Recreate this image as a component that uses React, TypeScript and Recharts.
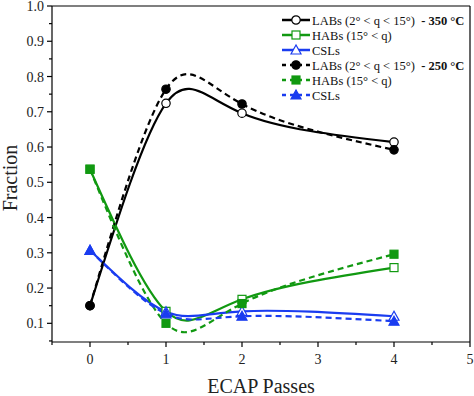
import React from "react";
import { LineChart, Line, XAxis, YAxis, ReferenceLine } from "recharts";

const passes = [0, 1, 2, 4];
const labs350 = [0.15, 0.724, 0.696, 0.614];
const habs350 = [0.537, 0.134, 0.168, 0.258];
const csls350 = [0.307, 0.133, 0.134, 0.12];
const labs250 = [0.15, 0.764, 0.722, 0.592];
const habs250 = [0.537, 0.1, 0.156, 0.296];
const csls250 = [0.307, 0.127, 0.12, 0.106];

const xTicks = [-0.5, 0, 0.5, 1, 1.5, 2, 2.5, 3, 3.5, 4, 4.5, 5];
const xLabels = ["0", "1", "2", "3", "4", "5"];
const yTicks = [0.05, 0.1, 0.15, 0.2, 0.25, 0.3, 0.35, 0.4, 0.45, 0.5, 0.55, 0.6, 0.65, 0.7, 0.75, 0.8, 0.85, 0.9, 0.95, 1.0];
const yLabels = ["0.1", "0.2", "0.3", "0.4", "0.5", "0.6", "0.7", "0.8", "0.9", "1.0"];

const BLACK = "#000000";
const GREEN = "#119911";
const BLUE = "#1a3cf0";
const FONT = "'Liberation Serif', 'DejaVu Serif', serif";
const TXT = { fontFamily: FONT };

const data = passes.map((p, i) => ({
  x: p,
  labs350: labs350[i],
  habs350: habs350[i],
  csls350: csls350[i],
  labs250: labs250[i],
  habs250: habs250[i],
  csls250: csls250[i],
}));

type Shape = "circle" | "square" | "triangle";

const series = [
  { key: "labs350", color: BLACK, shape: "circle" as Shape, filled: false, dashed: false, name: "LABs (2° < q < 15°)", bold: "  - 350 °C" },
  { key: "habs350", color: GREEN, shape: "square" as Shape, filled: false, dashed: false, name: "HABs (15° < q)", bold: "" },
  { key: "csls350", color: BLUE, shape: "triangle" as Shape, filled: false, dashed: false, name: "CSLs", bold: "" },
  { key: "labs250", color: BLACK, shape: "circle" as Shape, filled: true, dashed: true, name: "LABs (2° < q < 15°)", bold: "  - 250 °C" },
  { key: "habs250", color: GREEN, shape: "square" as Shape, filled: true, dashed: true, name: "HABs (15° < q)", bold: "" },
  { key: "csls250", color: BLUE, shape: "triangle" as Shape, filled: true, dashed: true, name: "CSLs", bold: "" },
];

function Marker({ cx, cy, shape, color, filled }: { cx: number; cy: number; shape: Shape; color: string; filled: boolean }) {
  const fill = filled ? color : "#ffffff";
  if (shape === "circle") return <circle cx={cx} cy={cy} r={4.2} fill={fill} stroke={color} strokeWidth={1.2} />;
  if (shape === "square") return <rect x={cx - 4} y={cy - 4} width={8} height={8} fill={fill} stroke={color} strokeWidth={1.2} />;
  return (
    <polygon
      points={`${cx},${cy - 5} ${cx - 5},${cy + 4} ${cx + 5},${cy + 4}`}
      fill={fill}
      stroke={color}
      strokeWidth={1.2}
    />
  );
}

const makeDot = (s: (typeof series)[number]) => (props: any) => {
  const { cx, cy, index } = props;
  if (cx == null || cy == null) return <g key={index} />;
  return (
    <g key={`${s.key}-${index}`}>
      <Marker cx={cx} cy={cy} shape={s.shape} color={s.color} filled={s.filled} />
    </g>
  );
};

const XTick = (props: any) => {
  const { x, y, payload } = props;
  const v = payload.value as number;
  const major = Math.abs(v - Math.round(v)) < 1e-6 && v >= 0;
  const label = major ? xLabels[Math.round(v)] : null;
  return (
    <g>
      <line x1={x} y1={y} x2={x} y2={y + (major ? 5 : 3)} stroke="#000" strokeWidth={1.2} />
      {label != null && (
        <text x={x} y={y + 22} textAnchor="middle" style={TXT} fontSize={14} fill="#222">
          {label}
        </text>
      )}
    </g>
  );
};

const YTick = (props: any) => {
  const { x, y, payload } = props;
  const v = payload.value as number;
  const idx = Math.round(v * 10);
  const major = Math.abs(v * 10 - idx) < 1e-6;
  const label = major && idx >= 1 ? yLabels[idx - 1] : null;
  return (
    <g>
      <line x1={x} y1={y} x2={x - (major ? 5 : 3)} y2={y} stroke="#000" strokeWidth={1.2} />
      {label != null && (
        <text x={x - 8} y={y + 5} textAnchor="end" style={TXT} fontSize={14} fill="#222">
          {label}
        </text>
      )}
    </g>
  );
};

const YLabel = (props: any) => {
  const vb = props.viewBox || { x: 0, y: 0, width: 52, height: 336 };
  const cx = vb.x + 17;
  const cy = vb.y + vb.height / 2 + 4;
  return (
    <text x={cx} y={cy} transform={`rotate(-90, ${cx}, ${cy})`} textAnchor="middle" style={TXT} fontSize={20} fill="#222">
      Fraction
    </text>
  );
};

const XLabel = (props: any) => {
  const vb = props.viewBox || { x: 52, y: 342, width: 418, height: 54 };
  return (
    <text x={vb.x + vb.width / 2} y={393} textAnchor="middle" style={TXT} fontSize={20} fill="#222">
      ECAP Passes
    </text>
  );
};

const LegendBox = () => (
  <svg width={194} height={100} style={{ position: "absolute", left: 280, top: 10 }}>
    {series.map((s, i) => {
      const cy = 10 + i * 15;
      return (
        <g key={s.key}>
          <line x1={2} y1={cy} x2={30} y2={cy} stroke={s.color} strokeWidth={2.5} strokeDasharray={s.dashed ? "4 4" : undefined} />
          <Marker cx={16} cy={cy} shape={s.shape} color={s.color} filled={s.filled} />
          <text x={32} y={cy + 4.5} style={{ ...TXT, whiteSpace: "pre" }} fontSize={12.5} fill="#111">
            {s.name}
            {s.bold && <tspan fontWeight="bold">{s.bold}</tspan>}
          </text>
        </g>
      );
    })}
  </svg>
);

export default function App() {
  return (
    <div style={{ position: "absolute", left: 0, top: 0, width: 474, height: 396, background: "#fff" }}>
      <LineChart width={474} height={396} data={data} margin={{ top: 6, right: 4, left: 0, bottom: 0 }}>
        <XAxis
          dataKey="x"
          type="number"
          domain={[-0.5, 5]}
          ticks={xTicks}
          interval={0}
          height={54}
          tickSize={0}
          tickMargin={0}
          tick={<XTick />}
          axisLine={{ stroke: "#000", strokeWidth: 1.2 }}
          tickLine={false}
          allowDataOverflow
          label={<XLabel />}
        />
        <YAxis
          type="number"
          domain={[0.047, 1.0]}
          ticks={yTicks}
          interval={0}
          width={52}
          tickSize={0}
          tickMargin={0}
          tick={<YTick />}
          axisLine={{ stroke: "#000", strokeWidth: 1.2 }}
          tickLine={false}
          allowDataOverflow
          label={<YLabel />}
        />
        <ReferenceLine y={1.0} stroke="#000" strokeWidth={1.2} ifOverflow="visible" />
        <ReferenceLine x={5} stroke="#000" strokeWidth={1.2} ifOverflow="visible" />
        {series.map((s) => (
          <Line
            key={s.key}
            dataKey={s.key}
            type="natural"
            stroke={s.color}
            strokeWidth={2.2}
            strokeDasharray={s.dashed ? "6 4" : undefined}
            dot={makeDot(s)}
            activeDot={false}
            isAnimationActive={false}
          />
        ))}
      </LineChart>
      <LegendBox />
    </div>
  );
}
